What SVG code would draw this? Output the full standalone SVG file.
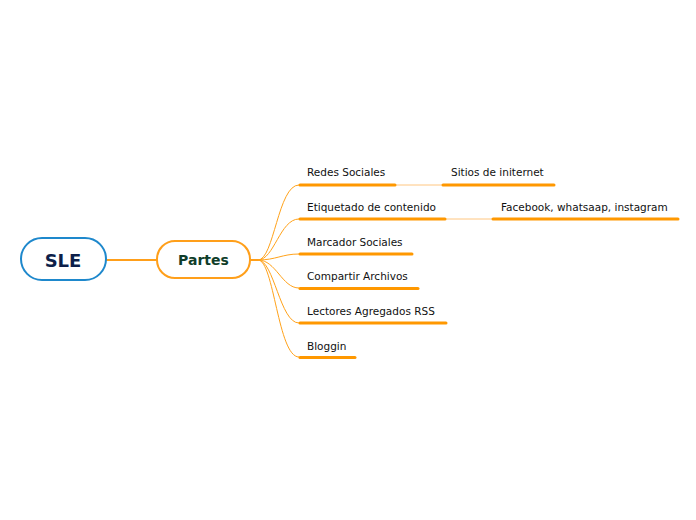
<svg xmlns="http://www.w3.org/2000/svg" width="696" height="520" viewBox="0 0 696 520">
<style>
.lbl{font-family:"DejaVu Sans",Verdana,sans-serif;font-size:10.5px;fill:#111}
.ul{stroke:#ff9800;stroke-width:3;stroke-linecap:round;fill:none}
.c{stroke:#ffa21a;stroke-width:1;fill:none}
.thin{stroke:#ffc680;stroke-width:1;fill:none}
</style>
<rect width="696" height="520" fill="#fff"/>
<g id="connectors">
<line x1="106" y1="260" x2="157" y2="260" stroke="#ff9f1a" stroke-width="2"/>
<line x1="250" y1="260" x2="258" y2="260" stroke="#ff9f1a" stroke-width="2"/>
<path class="c" d="M258 260 C274 260 278 185 299 185"/>
<path class="c" d="M258 260 C274 260 280 219 299 219"/>
<path class="c" d="M258 260 C276 260 282 254 299 254"/>
<path class="c" d="M258 260 C276 260 282 288 299 288"/>
<path class="c" d="M258 260 C274 260 280 323 299 323"/>
<path class="c" d="M258 260 C274 260 278 357 299 357"/>
<line class="thin" x1="395" y1="185" x2="443" y2="185"/>
<line class="thin" x1="445" y1="219" x2="493" y2="219"/>
</g>
<g id="sle">
<rect x="21" y="238" width="85" height="42" rx="21" fill="#fff" stroke="#1e88cc" stroke-width="2"/>
<text x="63" y="266.5" text-anchor="middle" font-family="DejaVu Sans,Verdana,sans-serif" font-weight="bold" font-size="18" fill="#0d1f4a">SLE</text>
</g>
<g id="partes">
<rect x="157" y="241" width="93" height="37" rx="18" fill="#fff" stroke="#ff9f1a" stroke-width="2"/>
<text x="203.5" y="265" text-anchor="middle" font-family="DejaVu Sans,Verdana,sans-serif" font-weight="bold" font-size="14" fill="#0f3d2a">Partes</text>
</g>
<g id="redes"><text class="lbl" x="307" y="176">Redes Sociales</text><line class="ul" x1="300" y1="185" x2="395" y2="185"/></g>
<g id="etiquetado"><text class="lbl" x="307" y="210.5">Etiquetado de contenido</text><line class="ul" x1="300" y1="219" x2="445" y2="219"/></g>
<g id="marcador"><text class="lbl" x="307" y="245.5">Marcador Sociales</text><line class="ul" x1="300" y1="254" x2="412" y2="254"/></g>
<g id="compartir"><text class="lbl" x="307" y="280">Compartir Archivos</text><line class="ul" x1="300" y1="288.5" x2="418" y2="288.5"/></g>
<g id="lectores"><text class="lbl" x="307" y="314.5">Lectores Agregados RSS</text><line class="ul" x1="300" y1="323" x2="446" y2="323"/></g>
<g id="bloggin"><text class="lbl" x="307" y="349.5">Bloggin</text><line class="ul" x1="300" y1="357.5" x2="355" y2="357.5"/></g>
<g id="sitios"><text class="lbl" x="451" y="176">Sitios de initernet</text><line class="ul" x1="443" y1="185" x2="554" y2="185"/></g>
<g id="facebook"><text class="lbl" x="501" y="210.5">Facebook, whatsaap, instagram</text><line class="ul" x1="493" y1="219" x2="678" y2="219"/></g>
</svg>
